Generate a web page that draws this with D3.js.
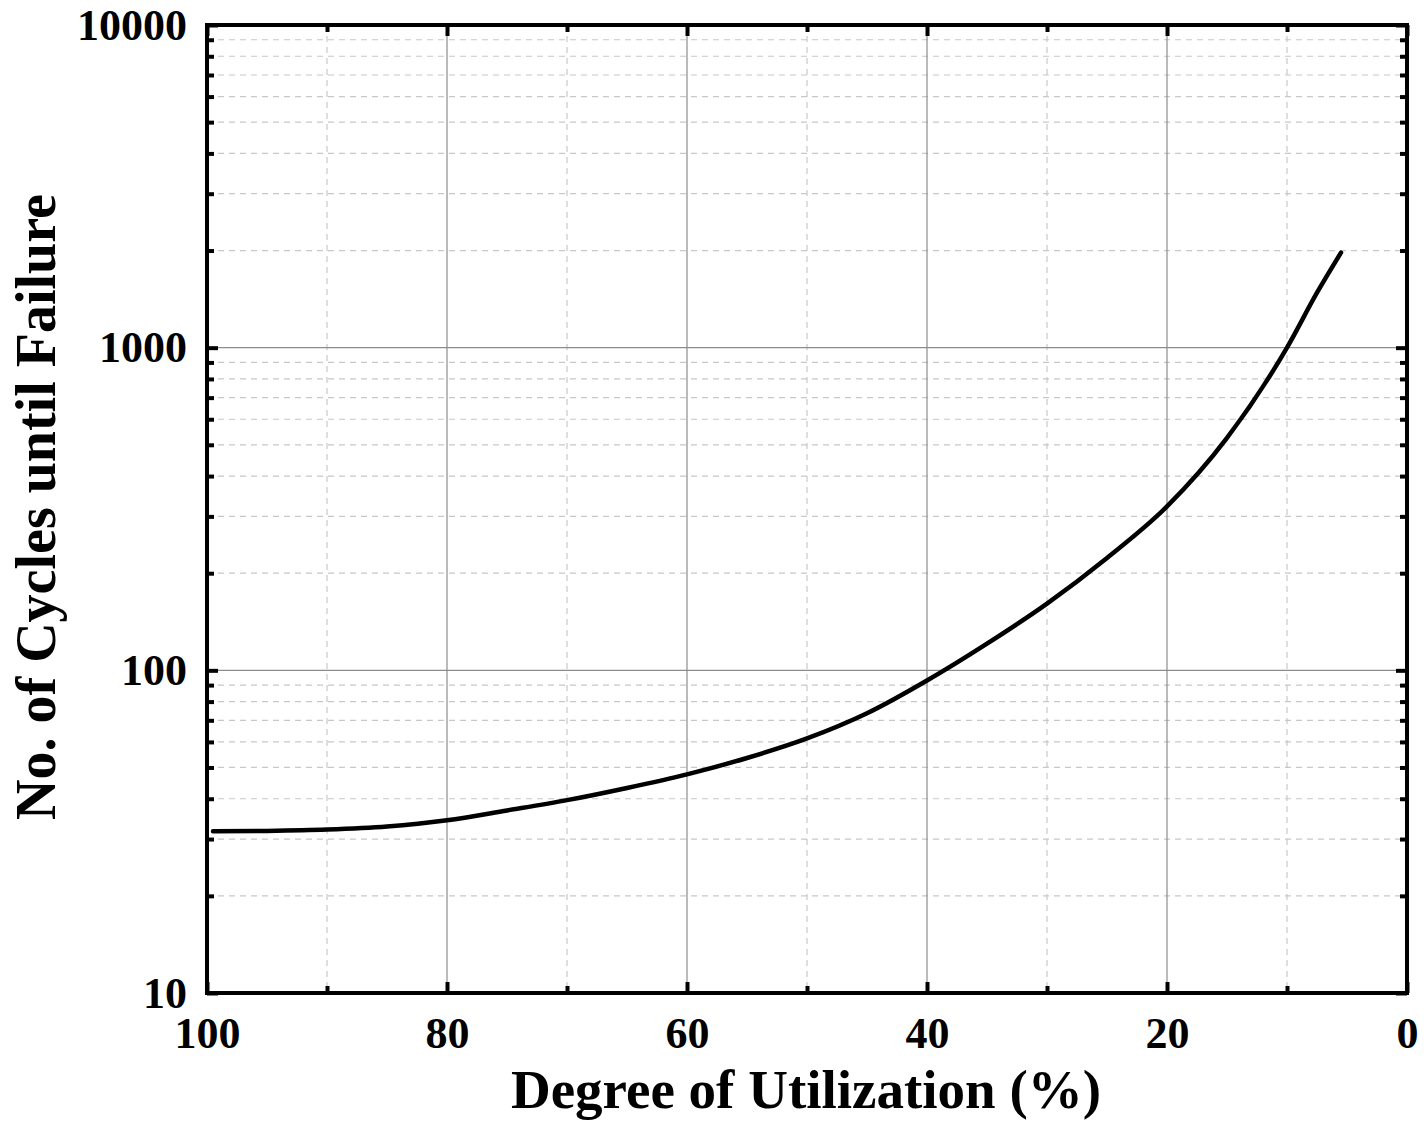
<!DOCTYPE html>
<html>
<head>
<meta charset="utf-8">
<script src="https://cdn.jsdelivr.net/npm/d3@7"></script>
<style>
  body { margin: 0; background: #fff; }
  text { font-family: "Liberation Serif", "Times New Roman", serif; font-weight: bold; }
</style>
</head>
<body>
<svg id="chart" width="1425" height="1127"></svg>
<script>
// degree of utilization (%) vs cycles until failure
var utilization = [99.5, 95, 90, 85, 80, 75, 70, 65, 60, 55, 50, 45, 40, 35, 30, 25, 20, 15, 10, 7.5, 5.5];
var cycles      = [31.7, 31.8, 32.1, 32.8, 34.3, 36.8, 39.6, 43.2, 47.6, 53.5, 61.5, 73.6, 93, 121, 161, 223, 322, 525, 1000, 1480, 1970];

var xTicks = [100, 80, 60, 40, 20, 0];
var xMinor = [90, 70, 50, 30, 10];
var yTicks = [10, 100, 1000, 10000];

var svg = d3.select("#chart");
var margin = {top: 25, right: 18, bottom: 134, left: 207},
    width = 1425 - margin.left - margin.right,
    height = 1127 - margin.top - margin.bottom,
    g = svg.append("g").attr("transform", "translate(" + margin.left + "," + margin.top + ")");

var x = d3.scaleLinear().domain([100, 0]).range([0, width]);
var y = d3.scaleLog().domain([10, 10000]).range([height, 0]);

var yMinor = [];
yTicks.slice(0, -1).forEach(function(d) {
  for (var k = 2; k <= 9; k++) yMinor.push(d * k);
});

// minor grid, dashed
g.append("g").selectAll("line.vminor")
  .data(xMinor).enter().append("line")
    .attr("x1", x).attr("x2", x)
    .attr("y1", 0).attr("y2", height)
    .attr("stroke", "#c8c8c8").attr("stroke-width", 1.2)
    .attr("stroke-dasharray", "6,5");
g.append("g").selectAll("line.hminor")
  .data(yMinor).enter().append("line")
    .attr("y1", y).attr("y2", y)
    .attr("x1", 0).attr("x2", width)
    .attr("stroke", "#c8c8c8").attr("stroke-width", 1.2)
    .attr("stroke-dasharray", "6,5");

// major grid
g.append("g").selectAll("line")
  .data(xTicks.slice(1, -1)).enter().append("line")
    .attr("x1", x).attr("x2", x)
    .attr("y1", 0).attr("y2", height)
    .attr("stroke", "#8c8c8c").attr("stroke-width", 1.2);
g.append("g").selectAll("line")
  .data(yTicks.slice(1, -1)).enter().append("line")
    .attr("y1", y).attr("y2", y)
    .attr("x1", 0).attr("x2", width)
    .attr("stroke", "#8c8c8c").attr("stroke-width", 1.2);

// curve
var line = d3.line()
    .x(function(d, i) { return x(utilization[i]); })
    .y(function(d) { return y(d); })
    .curve(d3.curveMonotoneX);

g.append("path")
    .datum(cycles)
    .attr("fill", "none")
    .attr("stroke", "#000")
    .attr("stroke-width", 4.5)
    .attr("stroke-linejoin", "round")
    .attr("stroke-linecap", "round")
    .attr("d", line);

// axes: ticks inward, on all four sides
function styleAxis(sel) {
  sel.select(".domain").remove();
  sel.selectAll(".tick line").attr("stroke", "#000").attr("stroke-width", 4);
}

g.append("g")
    .attr("transform", "translate(0," + height + ")")
    .call(d3.axisBottom(x).tickValues(xTicks).tickSize(-11).tickPadding(24).tickFormat(d3.format("d")))
    .call(styleAxis)
    .selectAll("text").attr("font-size", 44).attr("fill", "#000");
g.append("g")
    .attr("transform", "translate(0," + height + ")")
    .call(d3.axisBottom(x).tickValues(xMinor).tickSize(-7).tickFormat(""))
    .call(styleAxis);
g.append("g")
    .call(d3.axisTop(x).tickValues(xTicks).tickSize(-11).tickFormat(""))
    .call(styleAxis);
g.append("g")
    .call(d3.axisTop(x).tickValues(xMinor).tickSize(-7).tickFormat(""))
    .call(styleAxis);

g.append("g")
    .call(d3.axisLeft(y).tickValues(yTicks).tickSize(-11).tickPadding(20).tickFormat(d3.format("d")))
    .call(styleAxis)
    .selectAll("text").attr("font-size", 44).attr("fill", "#000");
g.append("g")
    .call(d3.axisLeft(y).tickValues(yMinor).tickSize(-7).tickFormat(""))
    .call(styleAxis);
g.append("g")
    .attr("transform", "translate(" + width + ",0)")
    .call(d3.axisRight(y).tickValues(yTicks).tickSize(-11).tickFormat(""))
    .call(styleAxis);
g.append("g")
    .attr("transform", "translate(" + width + ",0)")
    .call(d3.axisRight(y).tickValues(yMinor).tickSize(-7).tickFormat(""))
    .call(styleAxis);

// frame
g.append("rect")
    .attr("width", width).attr("height", height)
    .attr("fill", "none").attr("stroke", "#000").attr("stroke-width", 4);

// titles
svg.append("text")
    .attr("x", 806)
    .attr("y", 1108)
    .attr("text-anchor", "middle")
    .attr("font-size", 55)
    .text("Degree of Utilization (%)");

svg.append("text")
    .attr("transform", "translate(55,507) rotate(-90)")
    .attr("text-anchor", "middle")
    .attr("font-size", 56)
    .text("No. of Cycles until Failure");
</script>
</body>
</html>
